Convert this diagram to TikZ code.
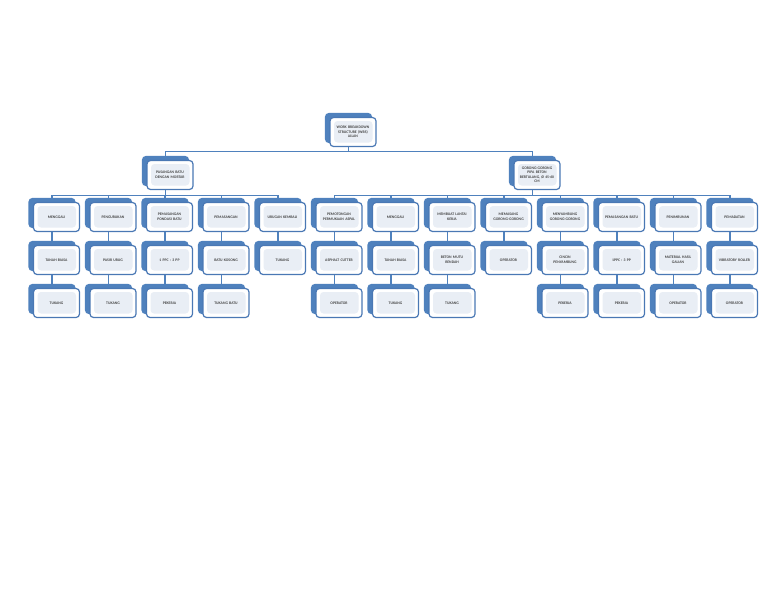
\documentclass[tikz,border=0pt]{standalone}
\usepackage{fontspec}
\setmainfont{Carlito}
\usepackage{tikz}
\usetikzlibrary{shadows}
\definecolor{WbsBlue}{RGB}{79,129,189}
\definecolor{WbsEdge}{RGB}{74,120,180}
\definecolor{WbsInner}{RGB}{233,238,245}
\definecolor{WbsText}{RGB}{70,70,70}

\tikzset{
  wbsbox/.style={draw=WbsEdge, line width=1.2pt, fill=white, rounded corners=3.5pt,
    minimum width=46pt, minimum height=29pt, text width=42pt, align=center,
    inner sep=0pt, text=WbsText, font=\fontsize{3.8}{4.5}\selectfont\bfseries,
    copy shadow={shadow xshift=-4.5pt, shadow yshift=4pt, fill=WbsBlue, draw=WbsBlue},
    path picture={\fill[WbsInner] ([shift={(4pt,-3.5pt)}]path picture bounding box.north west)
      rectangle ([shift={(-3.5pt,4pt)}]path picture bounding box.south east);}},
  wbsline/.style={draw=WbsBlue, line width=1.2pt}
}

\begin{document}
\begin{tikzpicture}[x=1pt, y=-1pt]
  % Page frame
  \useasboundingbox (0,0) rectangle (768,594);

  % Top of the breakdown
  \node[wbsbox] (root) at (353,132) {WORK BREAKDOWN\\STRUCTURE (WBS)\\JALAN};

  % Main work items
  \node[wbsbox] (pbm) at (170,175) {PASANGAN BATU\\DENGAN MORTAR};
  \node[wbsbox] (ggp) at (537,175) {GORONG-GORONG\\PIPA BETON\\BERTULANG, Ø 45-60\\CM};

  % Activities
  \node[wbsbox] (keg1) at (56.5,217) {MENGGALI};
  \node[wbsbox] (keg2) at (113,217) {PENGURUKAN};
  \node[wbsbox] (keg3) at (169.5,217) {PEMASANGAN\\PONDASI BATU};
  \node[wbsbox] (keg4) at (226,217) {PEMASANGAN};
  \node[wbsbox] (keg5) at (282.5,217) {URUGAN KEMBALI};
  \node[wbsbox] (keg6) at (339,217) {PEMOTONGAN\\PERMUKAAN ASPAL};
  \node[wbsbox] (keg7) at (395.5,217) {MENGGALI};
  \node[wbsbox] (keg8) at (452,217) {MEMBUAT LANTAI\\KERJA};
  \node[wbsbox] (keg9) at (508.5,217) {MEMASANG\\GORONG-GORONG};
  \node[wbsbox] (keg10) at (565,217) {MENYAMBUNG\\GORONG-GORONG};
  \node[wbsbox] (keg11) at (621.5,217) {PEMASANGAN BATU};
  \node[wbsbox] (keg12) at (678,217) {PENIMBUNAN};
  \node[wbsbox] (keg13) at (734.5,217) {PEMADATAN};

  % Materials and tools
  \node[wbsbox] (bhn1) at (56.5,260) {TANAH BIASA};
  \node[wbsbox] (bhn2) at (113,260) {PASIR URUG};
  \node[wbsbox] (bhn3) at (169.5,260) {1 PPC : 3 PP};
  \node[wbsbox] (bhn4) at (226,260) {BATU KOSONG};
  \node[wbsbox] (bhn5) at (282.5,260) {TUKANG};
  \node[wbsbox] (bhn6) at (339,260) {ASPHALT CUTTER};
  \node[wbsbox] (bhn7) at (395.5,260) {TANAH BIASA};
  \node[wbsbox] (bhn8) at (452,260) {BETON MUTU\\RENDAH};
  \node[wbsbox] (bhn9) at (508.5,260) {OPERATOR};
  \node[wbsbox] (bhn10) at (565,260) {CINCIN\\PENYAMBUNG};
  \node[wbsbox] (bhn11) at (621.5,260) {1PPC : 3 PP};
  \node[wbsbox] (bhn12) at (678,260) {MATERIAL HASIL\\GALIAN};
  \node[wbsbox] (bhn13) at (734.5,260) {VIBRATORY ROLLER};

  % Labour
  \node[wbsbox] (tng1) at (56.5,303) {TUKANG};
  \node[wbsbox] (tng2) at (113,303) {TUKANG};
  \node[wbsbox] (tng3) at (169.5,303) {PEKERJA};
  \node[wbsbox] (tng4) at (226,303) {TUKANG BATU};
  \node[wbsbox] (tng6) at (339,303) {OPERATOR};
  \node[wbsbox] (tng7) at (395.5,303) {TUKANG};
  \node[wbsbox] (tng8) at (452,303) {TUKANG};
  \node[wbsbox] (tng10) at (565,303) {PEKERJA};
  \node[wbsbox] (tng11) at (621.5,303) {PEKERJA};
  \node[wbsbox] (tng12) at (678,303) {OPERATOR};
  \node[wbsbox] (tng13) at (734.5,303) {OPERATOR};

  % Root to main items
  \draw[wbsline] ([xshift=-4.5pt]root.south) -- ++(0,4.5) -| ([xshift=-4.5pt,yshift=4pt]pbm.north);
  \draw[wbsline] ([xshift=-4.5pt]root.south) -- ++(0,4.5) -| ([xshift=-4.5pt,yshift=4pt]ggp.north);

  % Main items to activities
  \draw[wbsline] ([xshift=-4.5pt]pbm.south) -- ++(0,5.5) -| ([xshift=-4.5pt,yshift=4pt]keg1.north);
  \draw[wbsline] ([xshift=-4.5pt]pbm.south) -- ++(0,5.5) -| ([xshift=-4.5pt,yshift=4pt]keg2.north);
  \draw[wbsline] ([xshift=-4.5pt]pbm.south) -- ++(0,5.5) -| ([xshift=-4.5pt,yshift=4pt]keg3.north);
  \draw[wbsline] ([xshift=-4.5pt]pbm.south) -- ++(0,5.5) -| ([xshift=-4.5pt,yshift=4pt]keg4.north);
  \draw[wbsline] ([xshift=-4.5pt]pbm.south) -- ++(0,5.5) -| ([xshift=-4.5pt,yshift=4pt]keg5.north);
  \draw[wbsline] ([xshift=-4.5pt]ggp.south) -- ++(0,5.5) -| ([xshift=-4.5pt,yshift=4pt]keg6.north);
  \draw[wbsline] ([xshift=-4.5pt]ggp.south) -- ++(0,5.5) -| ([xshift=-4.5pt,yshift=4pt]keg7.north);
  \draw[wbsline] ([xshift=-4.5pt]ggp.south) -- ++(0,5.5) -| ([xshift=-4.5pt,yshift=4pt]keg8.north);
  \draw[wbsline] ([xshift=-4.5pt]ggp.south) -- ++(0,5.5) -| ([xshift=-4.5pt,yshift=4pt]keg9.north);
  \draw[wbsline] ([xshift=-4.5pt]ggp.south) -- ++(0,5.5) -| ([xshift=-4.5pt,yshift=4pt]keg10.north);
  \draw[wbsline] ([xshift=-4.5pt]ggp.south) -- ++(0,5.5) -| ([xshift=-4.5pt,yshift=4pt]keg11.north);
  \draw[wbsline] ([xshift=-4.5pt]ggp.south) -- ++(0,5.5) -| ([xshift=-4.5pt,yshift=4pt]keg12.north);
  \draw[wbsline] ([xshift=-4.5pt]ggp.south) -- ++(0,5.5) -| ([xshift=-4.5pt,yshift=4pt]keg13.north);

  % Activities to materials
  \draw[wbsline] ([xshift=-4.5pt]keg1.south) -- ([xshift=-4.5pt,yshift=4pt]bhn1.north);
  \draw[wbsline] ([xshift=-4.5pt]keg2.south) -- ([xshift=-4.5pt,yshift=4pt]bhn2.north);
  \draw[wbsline] ([xshift=-4.5pt]keg3.south) -- ([xshift=-4.5pt,yshift=4pt]bhn3.north);
  \draw[wbsline] ([xshift=-4.5pt]keg4.south) -- ([xshift=-4.5pt,yshift=4pt]bhn4.north);
  \draw[wbsline] ([xshift=-4.5pt]keg5.south) -- ([xshift=-4.5pt,yshift=4pt]bhn5.north);
  \draw[wbsline] ([xshift=-4.5pt]keg6.south) -- ([xshift=-4.5pt,yshift=4pt]bhn6.north);
  \draw[wbsline] ([xshift=-4.5pt]keg7.south) -- ([xshift=-4.5pt,yshift=4pt]bhn7.north);
  \draw[wbsline] ([xshift=-4.5pt]keg8.south) -- ([xshift=-4.5pt,yshift=4pt]bhn8.north);
  \draw[wbsline] ([xshift=-4.5pt]keg9.south) -- ([xshift=-4.5pt,yshift=4pt]bhn9.north);
  \draw[wbsline] ([xshift=-4.5pt]keg10.south) -- ([xshift=-4.5pt,yshift=4pt]bhn10.north);
  \draw[wbsline] ([xshift=-4.5pt]keg11.south) -- ([xshift=-4.5pt,yshift=4pt]bhn11.north);
  \draw[wbsline] ([xshift=-4.5pt]keg12.south) -- ([xshift=-4.5pt,yshift=4pt]bhn12.north);
  \draw[wbsline] ([xshift=-4.5pt]keg13.south) -- ([xshift=-4.5pt,yshift=4pt]bhn13.north);

  % Materials to labour
  \draw[wbsline] ([xshift=-4.5pt]bhn1.south) -- ([xshift=-4.5pt,yshift=4pt]tng1.north);
  \draw[wbsline] ([xshift=-4.5pt]bhn2.south) -- ([xshift=-4.5pt,yshift=4pt]tng2.north);
  \draw[wbsline] ([xshift=-4.5pt]bhn3.south) -- ([xshift=-4.5pt,yshift=4pt]tng3.north);
  \draw[wbsline] ([xshift=-4.5pt]bhn4.south) -- ([xshift=-4.5pt,yshift=4pt]tng4.north);
  \draw[wbsline] ([xshift=-4.5pt]bhn6.south) -- ([xshift=-4.5pt,yshift=4pt]tng6.north);
  \draw[wbsline] ([xshift=-4.5pt]bhn7.south) -- ([xshift=-4.5pt,yshift=4pt]tng7.north);
  \draw[wbsline] ([xshift=-4.5pt]bhn8.south) -- ([xshift=-4.5pt,yshift=4pt]tng8.north);
  \draw[wbsline] ([xshift=-4.5pt]bhn10.south) -- ([xshift=-4.5pt,yshift=4pt]tng10.north);
  \draw[wbsline] ([xshift=-4.5pt]bhn11.south) -- ([xshift=-4.5pt,yshift=4pt]tng11.north);
  \draw[wbsline] ([xshift=-4.5pt]bhn12.south) -- ([xshift=-4.5pt,yshift=4pt]tng12.north);
  \draw[wbsline] ([xshift=-4.5pt]bhn13.south) -- ([xshift=-4.5pt,yshift=4pt]tng13.north);
\end{tikzpicture}
\end{document}
